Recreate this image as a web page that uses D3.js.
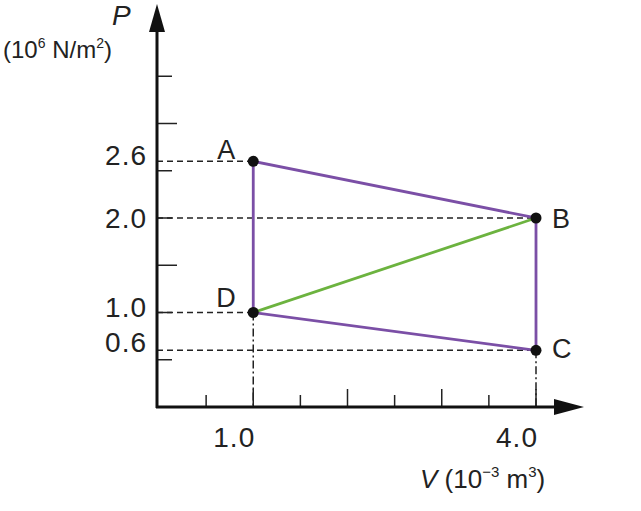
<!DOCTYPE html>
<html><head><meta charset="utf-8">
<script src="https://cdn.jsdelivr.net/npm/d3@7"></script>
<style>body{margin:0;background:#fff}svg{font-family:"Liberation Sans",Arial,sans-serif}</style>
</head><body><svg id="chart" width="641" height="511"></svg>
<script>
"use strict";

// Cycle points (V in 10^-3 m^3, P in 10^6 N/m^2)
const names = ["A", "B", "C", "D"];
const volumes = [1.0, 4.0, 4.0, 1.0];
const pressures = [2.6, 2.0, 0.6, 1.0];
const yTickLabels = [2.6, 2.0, 1.0, 0.6];
const xTickLabels = [1.0, 4.0];
const yTicks = [0.5, 1.0, 1.5, 2.0, 2.5, 3.0, 3.5];
const xTicks = [0.5, 1.0, 1.5, 2.0, 2.5, 3.0, 3.5, 4.0];

const svg = d3.select("#chart");
const x = d3.scaleLinear().domain([0, 4]).range([159, 536]);
const y = d3.scaleLinear().domain([0, 2]).range([407, 218]);
const ox = 157, oy = 407;

const pts = names.map((n, i) => ({name: n, x: x(volumes[i]), y: y(pressures[i])}));
const purple = "#7b4fa6", green = "#6cb33f";

// dashed guides
pts.forEach(p => {
	svg.append("line").attr("x1", ox).attr("x2", p.x).attr("y1", p.y).attr("y2", p.y)
		.attr("stroke", "#222").attr("stroke-width", 1.5).attr("stroke-dasharray", "6,4");
});
[pts[3], pts[2]].forEach(p => {
	svg.append("line").attr("x1", p.x).attr("x2", p.x).attr("y1", p.y).attr("y2", oy)
		.attr("stroke", "#222").attr("stroke-width", 1.5).attr("stroke-dasharray", "8,3,2,3");
});

// axis ticks
yTicks.forEach(t => {
	const len = (t === 3.0 || t === 1.5) ? 20 : 15;
	svg.append("line").attr("x1", ox).attr("x2", ox + len).attr("y1", y(t)).attr("y2", y(t))
		.attr("stroke", "#222").attr("stroke-width", 1.5);
});
xTicks.forEach(t => {
	const len = (t % 1 === 0) ? 18 : 12;
	svg.append("line").attr("x1", x(t)).attr("x2", x(t)).attr("y1", oy).attr("y2", oy - len)
		.attr("stroke", "#222").attr("stroke-width", 1.5);
});

// axes with arrows
svg.append("line").attr("x1", ox).attr("x2", ox).attr("y1", oy + 1).attr("y2", 25)
	.attr("stroke", "#111").attr("stroke-width", 3);
svg.append("line").attr("x1", ox - 1).attr("x2", 560).attr("y1", oy).attr("y2", oy)
	.attr("stroke", "#111").attr("stroke-width", 3);
svg.append("path").attr("d", `M${ox},4 L${ox - 8},32 L${ox + 8},32 Z`).attr("fill", "#111");
svg.append("path").attr("d", `M584,${oy} L554,${oy - 8} L554,${oy + 8} Z`).attr("fill", "#111");

// cycle
const line = d3.line().x(d => d.x).y(d => d.y);
svg.append("path").attr("d", line([...pts, pts[0]])).attr("fill", "none")
	.attr("stroke", purple).attr("stroke-width", 2.8);
svg.append("path").attr("d", line([pts[3], pts[1]])).attr("fill", "none")
	.attr("stroke", green).attr("stroke-width", 2.8);
svg.selectAll("circle.pt").data(pts).enter().append("circle")
	.attr("cx", d => d.x).attr("cy", d => d.y).attr("r", 5.5).attr("fill", "#111");

// point labels
const off = {A: [-36, -12], B: [16, 0], C: [16, -2], D: [-37, -16]};
pts.forEach(p => {
	svg.append("text").attr("x", p.x + off[p.name][0]).attr("y", p.y + off[p.name][1] + 10)
		.attr("font-size", 27).attr("fill", "#222").text(p.name);
});

// tick labels
yTickLabels.forEach(v => {
	const dy = (v === 1.0) ? -6 : (v === 0.6 ? -8 : (v === 2.6 ? -6 : 0));
	svg.append("text").attr("x", 147).attr("y", y(v) + dy + 10).attr("text-anchor", "end")
		.attr("font-size", 28).attr("letter-spacing", 1).attr("fill", "#222").text(v.toFixed(1));
});
xTickLabels.forEach(v => {
	svg.append("text").attr("x", x(v) - 19).attr("y", 447).attr("text-anchor", "middle")
		.attr("font-size", 28).attr("letter-spacing", 1).attr("fill", "#222").text(v.toFixed(1));
});

// axis titles
svg.append("text").attr("x", 112).attr("y", 25).attr("font-size", 28).attr("font-style", "italic")
	.attr("fill", "#222").text("P");
const pl = svg.append("text").attr("x", 3).attr("y", 58).attr("font-size", 24).attr("fill", "#222");
pl.append("tspan").text("(10");
pl.append("tspan").attr("font-size", 14).attr("dy", -10).text("6");
pl.append("tspan").attr("dy", 10).text(" N/m");
pl.append("tspan").attr("font-size", 14).attr("dy", -10).text("2");
pl.append("tspan").attr("dy", 10).text(")");
const vl = svg.append("text").attr("x", 420).attr("y", 488).attr("font-size", 26).attr("fill", "#222");
vl.append("tspan").attr("font-style", "italic").text("V");
vl.append("tspan").text("  (10");
vl.append("tspan").attr("font-size", 15).attr("dy", -11).text("−3");
vl.append("tspan").attr("dy", 11).text(" m");
vl.append("tspan").attr("font-size", 15).attr("dy", -11).text("3");
vl.append("tspan").attr("dy", 11).text(")");
</script></body></html>
